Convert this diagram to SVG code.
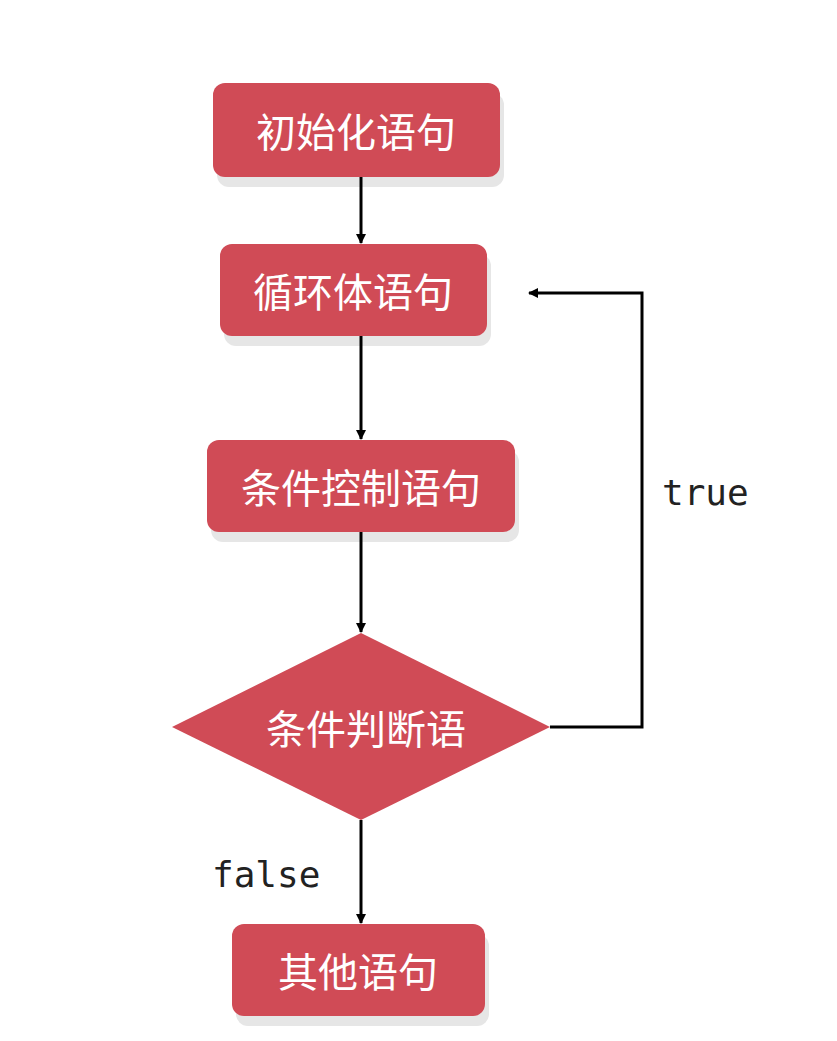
<svg xmlns="http://www.w3.org/2000/svg" width="837" height="1041" viewBox="0 0 837 1041">
<style>
.n{fill:#d04b56}
.s{fill:#e6e6e6}
.t{font-family:"Noto Sans CJK SC",sans-serif;font-size:40px;fill:#fff;text-anchor:middle;dominant-baseline:central}
.c{stroke:#000;stroke-width:3;fill:none}
.l{font-family:"DejaVu Sans Mono",monospace;font-size:36px;fill:#222}
</style>
<defs><marker id="a" markerWidth="10" markerHeight="10" refX="9" refY="5" orient="auto" markerUnits="userSpaceOnUse" viewBox="0 0 10 10"><path d="M0,0L10,5L0,10z" fill="#000"/></marker></defs>
<rect width="837" height="1041" fill="#fff"/>
<g id="n1"><rect class="s" x="217" y="93" width="287" height="94" rx="12"/><rect class="n" x="213" y="83" width="287" height="94" rx="12"/><text class="t" x="356" y="130">初始化语句</text></g>
<g id="n2"><rect class="s" x="224" y="254" width="267" height="92" rx="12"/><rect class="n" x="220" y="244" width="267" height="92" rx="12"/><text class="t" x="353" y="290">循环体语句</text></g>
<g id="n3"><rect class="s" x="211" y="450" width="308" height="92" rx="12"/><rect class="n" x="207" y="440" width="308" height="92" rx="12"/><text class="t" x="361" y="486">条件控制语句</text></g>
<g id="n4"><polygon class="n" points="361,633 550,727 361,820 172,727"/><text class="t" x="366" y="727">条件判断语</text></g>
<g id="n5"><rect class="s" x="236" y="934" width="253" height="92" rx="12"/><rect class="n" x="232" y="924" width="253" height="92" rx="12"/><text class="t" x="358" y="970">其他语句</text></g>
<g id="edges">
<line class="c" x1="361" y1="177" x2="361" y2="243" marker-end="url(#a)"/>
<line class="c" x1="361" y1="336" x2="361" y2="439" marker-end="url(#a)"/>
<line class="c" x1="361" y1="532" x2="361" y2="632" marker-end="url(#a)"/>
<line class="c" x1="361" y1="820" x2="361" y2="923" marker-end="url(#a)"/>
<polyline class="c" points="550,727 642,727 642,293 529,293" marker-end="url(#a)"/>
<text class="l" x="662" y="505">true</text>
<text class="l" x="212" y="887">false</text>
</g>
</svg>
